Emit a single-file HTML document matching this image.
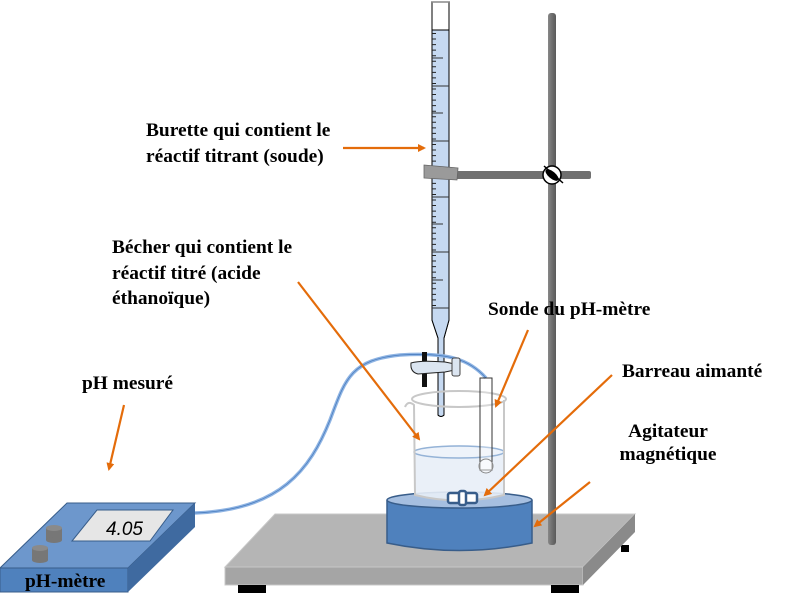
<!DOCTYPE html>
<html><head><meta charset="utf-8"><style>
html,body{margin:0;padding:0;background:#fff;}
svg{display:block;}
text{font-family:"Liberation Serif",serif;font-weight:bold;font-size:19.4px;fill:#000;}
</style></head><body>
<svg width="791" height="604" viewBox="0 0 791 604" xmlns="http://www.w3.org/2000/svg">
<defs>
<marker id="ah" markerWidth="8" markerHeight="8" refX="6" refY="4" orient="auto" markerUnits="userSpaceOnUse">
<path d="M0,0 L8,4 L0,8 Z" fill="#E46C0A"/></marker>
<linearGradient id="rod" x1="0" x2="1"><stop offset="0" stop-color="#888"/><stop offset="0.5" stop-color="#6e6e6e"/><stop offset="1" stop-color="#5a5a5a"/></linearGradient>
</defs>

<rect x="621" y="545" width="8" height="7" fill="#000"/>
<polygon points="275,514 635,514 583,567 225,567" fill="#b5b5b5" stroke="#c8c8c8" stroke-width="1"/>
<rect x="225" y="567" width="358" height="18" fill="#a5a5a5" stroke="#c8c8c8" stroke-width="1"/>
<polygon points="583,567 635,514 635,532 583,585" fill="#8a8a8a"/>
<rect x="238" y="585" width="28" height="8" fill="#000"/>
<rect x="551" y="585" width="28" height="8" fill="#000"/>

<rect x="548" y="13" width="8" height="532" rx="3" fill="url(#rod)"/>
<rect x="455" y="171" width="136" height="8" rx="2" fill="#707070"/>
<circle cx="552" cy="175" r="9" fill="#fff" stroke="#000" stroke-width="1.5"/>
<line x1="544" y1="166" x2="563" y2="183" stroke="#000" stroke-width="1.5"/>
<ellipse cx="552" cy="175" rx="8" ry="3.5" transform="rotate(40 552 175)" fill="#000"/>

<path d="M432,2 L432,320 L438,338 L438,415 Q441,418 444,415 L444,338 L449,320 L449,2" fill="#fff" stroke="#000" stroke-width="1"/>
<path d="M432,30 L432,320 L438,338 L438,415 Q441,418 444,415 L444,338 L449,320 L449,30 Z" fill="#c6d9f1" stroke="#000" stroke-width="1"/>
<line x1="431" y1="2" x2="450" y2="2" stroke="#888" stroke-width="1.5"/>
<line x1="434" y1="33" x2="434" y2="308" stroke="#222" stroke-width="4" stroke-dasharray="1 4.55"/>
<g stroke="#333" stroke-width="1">
<line x1="432" y1="86" x2="449" y2="86"/><line x1="432" y1="141" x2="449" y2="141"/><line x1="432" y1="197" x2="449" y2="197"/><line x1="432" y1="252" x2="449" y2="252"/><line x1="432" y1="308" x2="449" y2="308"/>
<line x1="432" y1="58" x2="443" y2="58"/><line x1="432" y1="113" x2="443" y2="113"/><line x1="432" y1="224" x2="443" y2="224"/><line x1="432" y1="280" x2="443" y2="280"/>
</g>
<polygon points="424,165 458,168 457,180 424,178" fill="#9a9a9a" stroke="#666" stroke-width="0.8"/>

<path d="M195,513 C280,510 310,470 330,420 C345,380 350,360 400,355 C450,352 470,360 486,378" fill="none" stroke="#8fb4e3" stroke-width="3.5"/>
<path d="M195,513 C280,510 310,470 330,420 C345,380 350,360 400,355 C450,352 470,360 486,378" fill="none" stroke="#4a7ec0" stroke-width="0.8"/>

<rect x="422" y="352" width="5" height="35" fill="#111"/>
<path d="M411,363 Q410,372 418,374 L445,372 L455,370 L455,364 L445,362 Q420,360 411,363 Z" fill="#dbe5f1" stroke="#222" stroke-width="1"/>
<rect x="452" y="358" width="8" height="18" rx="2" fill="#dbe5f1" stroke="#444" stroke-width="1"/>

<path d="M387,500 L387,543 Q459,558 532,543 L532,500" fill="#4f81bd" stroke="#385d8a" stroke-width="1.5"/>
<ellipse cx="459.5" cy="500" rx="72.5" ry="8" fill="#a6bfe0" stroke="#385d8a" stroke-width="1.5"/>

<path d="M414,450 L415,495 Q459,506 504,495 L504,450 Q459,440 414,450 Z" fill="#e8eef7" opacity="0.9"/>
<ellipse cx="459" cy="452" rx="45" ry="6" fill="#eef3fa" stroke="#95b3d7" stroke-width="1.5"/>
<path d="M405,407 Q408,400 414,405 L415,495 Q459,506 504,495 L504,400" fill="none" stroke="#c8c8c8" stroke-width="2"/>
<ellipse cx="459" cy="399" rx="47" ry="8" fill="none" stroke="#c8c8c8" stroke-width="2"/>
<rect x="480" y="378" width="12" height="92" fill="#fff" fill-opacity="0.3" stroke="#333" stroke-width="1"/>
<circle cx="486" cy="466" r="7" fill="#fff" fill-opacity="0.5" stroke="#888" stroke-width="1"/>
<rect x="448" y="493" width="29" height="10" rx="2" fill="#fff" stroke="#385d8a" stroke-width="2.5"/>
<rect x="459" y="491" width="7" height="14" rx="2" fill="#fff" stroke="#385d8a" stroke-width="2.5"/>

<polygon points="67,503 195,503 128,568 0,568" fill="#6d97cc" stroke="#385d8a" stroke-width="1"/>
<rect x="0" y="568" width="128" height="24" fill="#4f81bd" stroke="#385d8a" stroke-width="1"/>
<polygon points="128,568 195,503 195,527 128,592" fill="#3f6aa0"/>
<polygon points="97,510 173,510 150,541 72,541" fill="#e6e6e6" stroke="#385d8a" stroke-width="1"/>
<text x="106" y="535" style="font-family:'Liberation Sans',sans-serif;font-weight:normal;font-style:italic;font-size:19px">4.05</text>
<rect x="46" y="528" width="16" height="12" fill="#777"/><ellipse cx="54" cy="528" rx="8" ry="3" fill="#8a8a8a"/><ellipse cx="54" cy="540" rx="8" ry="3" fill="#777"/>
<rect x="32" y="548" width="16" height="12" fill="#777"/><ellipse cx="40" cy="548" rx="8" ry="3" fill="#8a8a8a"/><ellipse cx="40" cy="560" rx="8" ry="3" fill="#777"/>
<text x="25" y="587">pH-mètre</text>

<text x="146" y="136">Burette qui contient le</text>
<text x="146" y="162">réactif titrant (soude)</text>
<text x="112" y="253">Bécher qui contient le</text>
<text x="112" y="279">réactif titré (acide</text>
<text x="112" y="304">éthanoïque)</text>
<text x="488" y="315">Sonde du pH-mètre</text>
<text x="622" y="377">Barreau aimanté</text>
<text x="668" y="437" text-anchor="middle">Agitateur</text>
<text x="668" y="460" text-anchor="middle">magnétique</text>
<text x="82" y="389">pH mesuré</text>

<g stroke="#E46C0A" stroke-width="2.2" fill="none" marker-end="url(#ah)">
<line x1="343" y1="148" x2="424" y2="148"/>
<line x1="298" y1="282" x2="419" y2="439"/>
<line x1="528" y1="330" x2="496" y2="406"/>
<line x1="612" y1="375" x2="485" y2="495"/>
<line x1="590" y1="482" x2="535" y2="526"/>
<line x1="124" y1="405" x2="109" y2="469"/>
</g>
</svg>
</body></html>
